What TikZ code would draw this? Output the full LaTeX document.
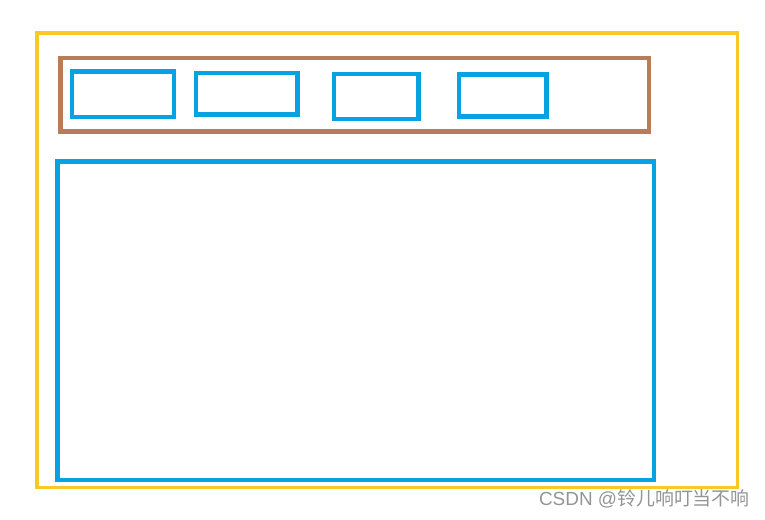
\documentclass[tikz,border=0pt]{standalone}
\usepackage{fontspec}
\newfontfamily\cjkfont{Noto Sans CJK SC}
\newfontfamily\latinfont{Liberation Sans}
\definecolor{frameyellow}{RGB}{246,200,40}
\definecolor{barbrown}{RGB}{184,124,88}
\definecolor{boxblue}{RGB}{6,162,226}
\begin{document}
\begin{tikzpicture}[x=0.75pt,y=-0.75pt,
  outerframe/.style={draw=frameyellow, line width=2.3pt},
  navbar/.style={draw=barbrown, line width=3.4pt},
  itembox/.style={draw=boxblue, line width=3.4pt}]
  \useasboundingbox (0,0) rectangle (765,519);
  \draw [outerframe] (37,33) rectangle (737.5,487.5);
  \draw [navbar] (60.5,58) rectangle (649,131.5);
  % boxes in the bar
  \draw [itembox] (72,71.5) rectangle (174,117);
  \draw [itembox] (196,73) rectangle (297.5,114.5);
  \draw [itembox] (334,74) rectangle (418.5,119);
  \draw [itembox] (459,74.5) rectangle (546.5,116.5);
  % content
  \draw [itembox] (57.5,161.5) rectangle (654,480);
  \node [text=black!42, inner sep=0pt, anchor=base east,
         font=\fontsize{14.2}{16}\selectfont] (mark) at (750,505.5)
        {\latinfont CSDN @\cjkfont 铃儿响叮当不响};
\end{tikzpicture}
\end{document}
